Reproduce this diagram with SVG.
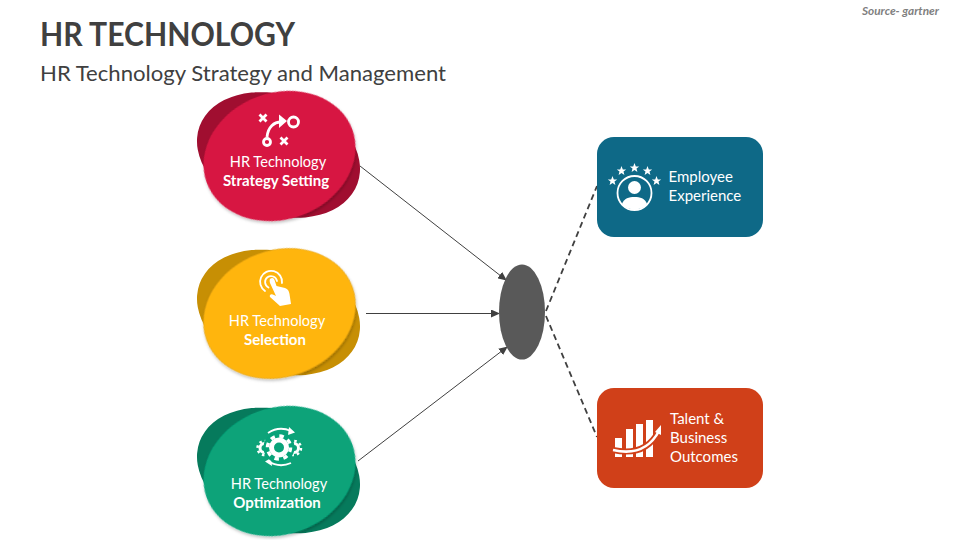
<svg xmlns="http://www.w3.org/2000/svg" width="960" height="540" viewBox="0 0 960 540">
<style>
text{font-family:"Lato","Open Sans","Liberation Sans",sans-serif}
.l{font-size:14.600px;fill:#fff;text-anchor:middle}
.b{font-size:15px;font-weight:700}
.r{font-size:15px;fill:#fff}
.i{fill:none;stroke:#fff;stroke-width:2.800}
.w{fill:#fff}
.c{fill:none;stroke:#404040;stroke-width:1}
.d{fill:none;stroke:#404040;stroke-width:1.800;stroke-dasharray:6 4}
.o{fill:none;stroke:#fff;stroke-width:1.800}
</style>
<defs>
<marker id="a" markerWidth="9" markerHeight="8" refX="8" refY="4" orient="auto" markerUnits="userSpaceOnUse"><path d="M0 0L9 4L0 8z" fill="#404040"/></marker>
<filter id="s" x="-10%" y="-10%" width="120%" height="125%"><feDropShadow dx="0" dy="2" stdDeviation="1.500" flood-color="#000" flood-opacity=".25"/></filter>
<path id="star" d="M0-4.900L1.300-1.600L4.700-1.500L2 .6L2.900 4L0 2L-2.900 4L-2 .6L-4.700-1.500L-1.300-1.600z"/>
</defs>
<text x="40" y="46" font-size="32" font-weight="700" fill="#404040" textLength="255" lengthAdjust="spacingAndGlyphs">HR TECHNOLOGY</text>
<text x="40" y="81" font-size="22" fill="#404040" textLength="406" lengthAdjust="spacingAndGlyphs">HR Technology Strategy and Management</text>
<text x="862" y="15" font-size="11" font-weight="700" font-style="italic" fill="#7f7f7f" textLength="77" lengthAdjust="spacingAndGlyphs">Source- gartner</text>
<g id="connectors">
<path class="c" marker-end="url(#a)" d="M360 166L506 280"/>
<path class="c" marker-end="url(#a)" d="M366 313.500L499 313.500"/>
<path class="c" marker-end="url(#a)" d="M358 461L507 347"/>
<path class="d" d="M546 311L597 186"/>
<path class="d" d="M546 316L597 437"/>
</g>
<g id="hub"><ellipse cx="522" cy="312" rx="23" ry="47.500" fill="#595959"/></g>
<g id="strategy">
<ellipse cx="278.500" cy="155" rx="84" ry="59.500" transform="rotate(20 278.500 155)" fill="#a00e30"/>
<ellipse cx="279.500" cy="156" rx="77.500" ry="63.200" transform="rotate(-20 279.500 156)" fill="#d71742" filter="url(#s)"/>
<path class="i" d="M267 137C268 127 274 122 281 122"/>
<path class="w" d="M279 114.500L287 121L279 128z"/>
<circle class="i" cx="293.500" cy="122" r="5"/>
<circle class="i" cx="267" cy="142" r="3.500"/>
<path class="i" d="M259.500 114.500L266.500 121.500M266.500 114.500L259.500 121.500M280.500 137.500L287.500 144.500M287.500 137.500L280.500 144.500"/>
<text class="l" x="278" y="167">HR Technology</text>
<text class="l b" x="276" y="186">Strategy Setting</text>
</g>
<g id="selection">
<ellipse cx="278.500" cy="312.500" rx="84" ry="59.500" transform="rotate(20 278.500 312.500)" fill="#c78f04"/>
<ellipse cx="279.500" cy="313.500" rx="77.500" ry="63.200" transform="rotate(-20 279.500 313.500)" fill="#ffb50f" stroke="#e0a010" stroke-width=".6" filter="url(#s)"/>
<path d="M265 291A11 11 0 1 1 282 283M268.500 287.500A6 6 0 1 1 277 281" fill="none" stroke="#fff" stroke-width="1.800" stroke-linecap="round"/>
<path class="w" d="M270 279C272 277 274 278 274.500 280L276.500 286L285 288C288 289 289 291 289.500 294L291 304L280 306L270 297C269 295 271 293 274 295L276 296L270 283C269.500 281 269.500 280 270 279z"/>
<text class="l" x="277" y="326">HR Technology</text>
<text class="l b" x="275" y="345">Selection</text>
</g>
<g id="optimization">
<ellipse cx="278.500" cy="470.500" rx="84" ry="59.500" transform="rotate(20 278.500 470.500)" fill="#067a5c"/>
<ellipse cx="279.500" cy="471" rx="77.500" ry="63.200" transform="rotate(-20 279.500 471)" fill="#07a379" filter="url(#s)"/>
<path d="M268 433A24 24 0 0 1 291 431M268 461A24 24 0 0 0 291 463" fill="none" stroke="#fff" stroke-width="1.800"/>
<path class="w" d="M289 427L295 432.500L288 435zM271 458L265 461.500L272 466z"/>
<circle cx="264.500" cy="448" r="4.500" fill="none" stroke="#fff" stroke-width="3"/>
<circle cx="264.500" cy="448" r="7" fill="none" stroke="#fff" stroke-width="2.500" stroke-dasharray="2.500 3"/>
<circle cx="294" cy="448" r="4.500" fill="none" stroke="#fff" stroke-width="3"/>
<circle cx="294" cy="448" r="7" fill="none" stroke="#fff" stroke-width="2.500" stroke-dasharray="2.500 3"/>
<circle cx="279" cy="447.500" r="15.500" fill="#07a379"/>
<circle cx="279" cy="447.500" r="7.500" fill="none" stroke="#fff" stroke-width="5"/>
<circle cx="279" cy="447.500" r="11.500" fill="none" stroke="#fff" stroke-width="3.500" stroke-dasharray="4.500 4.530"/>
<text class="l" x="279" y="489">HR Technology</text>
<text class="l b" x="277" y="508">Optimization</text>
</g>
<g id="employee">
<rect x="597" y="137" width="166" height="100" rx="17" fill="#0e6987"/>
<circle class="o" cx="634.500" cy="193" r="17"/>
<circle class="w" cx="634.500" cy="187.500" r="6.500"/>
<path class="w" d="M622 204C624 198 629 197 634.500 197C640 197 645 198 647 204C643 211 626 211 622 204z"/>
<use href="#star" class="w" x="612.500" y="181"/>
<use href="#star" class="w" x="621.500" y="171"/>
<use href="#star" class="w" x="634.500" y="168"/>
<use href="#star" class="w" x="647.500" y="171"/>
<use href="#star" class="w" x="656.500" y="181"/>
<text class="r" x="668.500" y="182">Employee</text>
<text class="r" x="668.500" y="201">Experience</text>
</g>
<g id="outcomes">
<rect x="597" y="388" width="166" height="100" rx="17" fill="#d04019"/>
<path class="w" d="M615 438h7v19h-7zM626 429h7v28h-7zM636 424h7v33h-7zM646 420h7v37h-7z"/>
<path d="M613 450C635 455 650 448 659 431" fill="none" stroke="#d04019" stroke-width="6"/>
<path d="M613 450C635 455 650 448 659 431" fill="none" stroke="#fff" stroke-width="2.600"/>
<path class="w" d="M661 425L661 435L655 432z"/>
<text class="r" x="670" y="424">Talent &amp;</text>
<text class="r" x="670" y="443">Business</text>
<text class="r" x="670" y="462">Outcomes</text>
</g>
</svg>
